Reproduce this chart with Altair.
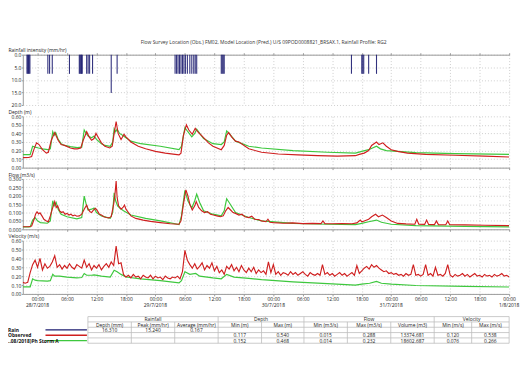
import altair as alt
import pandas as pd

# ---------------- data ----------------
START = pd.Timestamp("2018-07-27 21:00:00")

# rainfall (hours after start, intensity mm/hr)
rain_hours = [0.85, 1.0, 1.15, 1.3, 1.45, 5.1, 5.45, 6.0, 9.5, 11.5, 11.65, 11.8, 11.95, 12.1,
              13.0, 13.3, 13.6, 14.2, 18.0, 19.2, 31.0, 31.3, 31.6, 31.9, 32.2, 32.5, 32.8, 33.1,
              33.5, 34.0, 34.4, 34.8, 35.1, 35.4, 40.4, 40.6, 40.8, 41.0, 66.9, 69.0, 69.2, 69.4,
              70.4, 72.0]
rain_mmhr = [7.62, 7.62, 7.62, 7.62, 7.62, 7.62, 7.62, 7.62, 7.62, 7.62, 7.62, 7.62, 7.62, 7.62,
             7.62, 7.62, 7.62, 7.62, 15.24, 7.62, 7.62, 7.62, 7.62, 7.62, 7.62, 7.62, 7.62, 7.62,
             7.62, 7.62, 7.62, 7.62, 7.62, 7.62, 7.62, 7.62, 7.62, 7.62, 7.62, 7.62, 7.62, 7.62,
             7.62, 7.62]

depth_obs = [(0.0, 0.117), (1.2, 0.118), (1.8, 0.13), (2.3, 0.22), (2.8, 0.29), (3.3, 0.27),
             (4.0, 0.21), (4.8, 0.17), (5.2, 0.18), (5.8, 0.32), (6.5, 0.41), (6.8, 0.37),
             (7.2, 0.32), (7.8, 0.27), (8.5, 0.26), (9.7, 0.23), (10.5, 0.22), (11.1, 0.22),
             (11.8, 0.23), (12.3, 0.32), (13.0, 0.42), (13.5, 0.36), (14.0, 0.32), (14.5, 0.34),
             (14.9, 0.40), (15.4, 0.35), (16.0, 0.29), (16.7, 0.25), (17.7, 0.23), (18.2, 0.25),
             (18.6, 0.40), (19.0, 0.54), (19.4, 0.40), (20.0, 0.33), (20.6, 0.39), (21.0, 0.36),
             (22.0, 0.30), (23.5, 0.25), (25.0, 0.22), (27.0, 0.19), (29.0, 0.17), (31.0, 0.155),
             (31.8, 0.15), (32.2, 0.17), (32.7, 0.38), (33.3, 0.50), (33.8, 0.44), (34.5, 0.39),
             (35.1, 0.46), (35.6, 0.42), (36.8, 0.35), (37.8, 0.29), (38.7, 0.25), (40.4, 0.21),
             (41.0, 0.26), (41.5, 0.38), (41.9, 0.41), (42.5, 0.36), (43.3, 0.31), (44.0, 0.30),
             (46.0, 0.22), (48.6, 0.18), (52.0, 0.16), (56.0, 0.15), (60.0, 0.14), (64.0, 0.135),
             (67.7, 0.14), (68.5, 0.155), (69.5, 0.17), (70.4, 0.20), (71.0, 0.26), (72.0, 0.30),
             (72.5, 0.27), (73.3, 0.29), (74.0, 0.25), (75.0, 0.21), (76.3, 0.19), (78.3, 0.17),
             (82.0, 0.155), (88.0, 0.145), (94.0, 0.135), (99.0, 0.125)]

depth_pred = [(0.0, 0.153), (1.5, 0.153), (2.0, 0.25), (2.5, 0.24), (3.2, 0.23), (4.0, 0.22),
              (5.1, 0.21), (5.6, 0.22), (6.1, 0.42), (6.4, 0.38), (6.7, 0.41), (7.2, 0.33),
              (7.8, 0.28), (8.5, 0.26), (9.7, 0.245), (11.1, 0.235), (12.0, 0.24), (12.5, 0.44),
              (12.9, 0.40), (13.3, 0.37), (14.0, 0.35), (14.5, 0.37), (15.0, 0.33), (16.0, 0.28),
              (16.7, 0.26), (17.8, 0.25), (18.3, 0.30), (18.6, 0.455), (18.9, 0.42), (19.2, 0.45),
              (19.7, 0.40), (20.3, 0.38), (21.0, 0.35), (22.0, 0.31), (24.0, 0.28), (28.0, 0.25),
              (31.8, 0.21), (32.3, 0.25), (33.0, 0.468), (33.6, 0.42), (34.4, 0.36), (35.0, 0.40),
              (35.4, 0.45), (36.0, 0.40), (36.8, 0.34), (38.7, 0.28), (40.4, 0.27), (41.0, 0.30),
              (41.5, 0.43), (42.0, 0.40), (43.3, 0.31), (46.0, 0.25), (48.6, 0.23), (55.0, 0.20),
              (62.0, 0.18), (67.7, 0.17), (69.0, 0.19), (70.4, 0.21), (72.0, 0.25), (72.8, 0.22),
              (74.0, 0.20), (76.3, 0.19), (80.0, 0.175), (88.0, 0.165), (99.0, 0.155)]

flow_obs = [(0.0, 0.015), (1.2, 0.015), (1.8, 0.02), (2.3, 0.06), (2.6, 0.09), (2.9, 0.105),
            (3.2, 0.092), (3.5, 0.098), (3.9, 0.08), (4.3, 0.06), (4.8, 0.05), (5.2, 0.045),
            (5.6, 0.08), (6.0, 0.12), (6.5, 0.165), (6.8, 0.13), (7.1, 0.14), (7.5, 0.11),
            (7.9, 0.10), (8.2, 0.105), (8.6, 0.09), (9.0, 0.095), (9.4, 0.085), (9.8, 0.09),
            (10.2, 0.08), (10.6, 0.085), (11.0, 0.078), (11.5, 0.08), (12.0, 0.09), (12.5, 0.12),
            (13.0, 0.145), (13.3, 0.12), (13.7, 0.105), (14.0, 0.10), (14.4, 0.115), (14.8, 0.125),
            (15.2, 0.11), (15.6, 0.09), (16.0, 0.085), (16.5, 0.075), (17.0, 0.07), (17.5, 0.068),
            (18.0, 0.075), (18.5, 0.15), (18.8, 0.22), (19.0, 0.288), (19.2, 0.19), (19.5, 0.14),
            (20.0, 0.12), (20.4, 0.13), (20.7, 0.145), (21.0, 0.12), (21.5, 0.10), (22.0, 0.08),
            (23.0, 0.065), (24.5, 0.055), (26.0, 0.047), (28.0, 0.04), (30.0, 0.033), (31.8, 0.03),
            (32.2, 0.05), (32.7, 0.15), (33.2, 0.235), (33.6, 0.20), (34.0, 0.15), (34.5, 0.115),
            (35.0, 0.14), (35.3, 0.165), (35.8, 0.13), (36.4, 0.11), (37.0, 0.10), (37.6, 0.105),
            (38.2, 0.09), (38.8, 0.085), (39.5, 0.08), (40.2, 0.075), (40.8, 0.08), (41.3, 0.11),
            (41.8, 0.13), (42.3, 0.115), (42.8, 0.10), (43.3, 0.095), (44.0, 0.085), (44.6, 0.09),
            (45.2, 0.075), (46.0, 0.07), (46.6, 0.078), (47.2, 0.06), (48.0, 0.058), (48.6, 0.05),
            (49.5, 0.045), (49.9, 0.06), (50.3, 0.042), (51.0, 0.04), (53.0, 0.036), (55.0, 0.038),
            (57.0, 0.034), (59.0, 0.035), (60.7, 0.034), (61.1, 0.05), (61.5, 0.034), (63.0, 0.033),
            (65.0, 0.034), (67.0, 0.033), (68.0, 0.038), (68.7, 0.055), (69.0, 0.045), (69.5, 0.05),
            (70.4, 0.06), (71.0, 0.075), (71.8, 0.09), (72.4, 0.075), (73.2, 0.085), (74.0, 0.07),
            (75.0, 0.05), (76.3, 0.035), (78.0, 0.032), (79.8, 0.03), (80.2, 0.06), (80.6, 0.03),
            (81.8, 0.029), (82.2, 0.055), (82.6, 0.029), (83.8, 0.028), (84.2, 0.05), (84.6, 0.028),
            (86.1, 0.027), (86.5, 0.05), (86.9, 0.027), (90.0, 0.026), (94.0, 0.024), (99.0, 0.022)]

flow_pred = [(0.0, 0.014), (1.5, 0.014), (2.0, 0.055), (2.5, 0.07), (3.0, 0.05), (3.6, 0.04),
             (5.0, 0.036), (5.6, 0.05), (6.1, 0.17), (6.4, 0.14), (6.8, 0.16), (7.2, 0.12),
             (7.8, 0.09), (9.0, 0.075), (11.0, 0.062), (12.0, 0.07), (12.5, 0.198), (12.9, 0.15),
             (13.3, 0.115), (14.0, 0.12), (14.5, 0.127), (15.0, 0.10), (16.0, 0.08), (17.8, 0.065),
             (18.3, 0.10), (18.6, 0.218), (18.9, 0.17), (19.3, 0.14), (19.8, 0.125), (20.5, 0.11),
             (22.0, 0.085), (25.0, 0.065), (28.0, 0.05), (31.8, 0.028), (32.3, 0.08), (33.0, 0.232),
             (33.6, 0.17), (34.4, 0.127), (35.0, 0.17), (35.4, 0.21), (36.0, 0.16), (36.8, 0.11),
             (38.7, 0.09), (40.4, 0.08), (41.0, 0.11), (41.5, 0.182), (42.0, 0.16), (43.3, 0.10),
             (46.0, 0.07), (48.6, 0.05), (55.0, 0.035), (62.0, 0.03), (67.7, 0.028), (69.0, 0.035),
             (70.4, 0.045), (72.0, 0.055), (73.0, 0.042), (75.0, 0.03), (80.0, 0.022), (90.0, 0.017),
             (99.0, 0.014)]

# observed velocity, one reading every half hour from the start
vel_obs_step = 0.5
vel_obs = [0.13, 0.12, 0.13, 0.24, 0.33, 0.38, 0.30, 0.40, 0.27, 0.34,
           0.29, 0.31, 0.36, 0.43, 0.30, 0.33, 0.28, 0.32, 0.29, 0.34,
           0.30, 0.28, 0.33, 0.31, 0.29, 0.38, 0.30, 0.34, 0.27, 0.32,
           0.29, 0.33, 0.27, 0.31, 0.34, 0.30, 0.36, 0.32, 0.538, 0.34,
           0.35, 0.22, 0.19, 0.21, 0.18, 0.22, 0.19, 0.20, 0.17, 0.21,
           0.19, 0.18, 0.21, 0.17, 0.20, 0.18, 0.19, 0.16, 0.20, 0.18,
           0.17, 0.19, 0.18, 0.20, 0.17, 0.25, 0.49, 0.38, 0.33, 0.29,
           0.34, 0.28, 0.31, 0.35, 0.27, 0.32, 0.29, 0.35, 0.26, 0.31,
           0.24, 0.27, 0.22, 0.31, 0.28, 0.33, 0.26, 0.30, 0.25, 0.32,
           0.27, 0.24, 0.29, 0.25, 0.30, 0.23, 0.27, 0.24, 0.26, 0.22,
           0.36, 0.24, 0.33, 0.22, 0.25, 0.21, 0.24, 0.23, 0.21, 0.25,
           0.22, 0.24, 0.21, 0.23, 0.25, 0.22, 0.20, 0.24, 0.22, 0.21,
           0.23, 0.21, 0.33, 0.22, 0.24, 0.21, 0.23, 0.20, 0.22, 0.24,
           0.21, 0.23, 0.20, 0.22, 0.24, 0.21, 0.32, 0.23, 0.26, 0.29,
           0.31, 0.28, 0.33, 0.30, 0.32, 0.29, 0.27, 0.25, 0.26, 0.23,
           0.24, 0.22, 0.23, 0.21, 0.22, 0.20, 0.23, 0.21, 0.22, 0.33,
           0.21, 0.22, 0.20, 0.22, 0.33, 0.21, 0.23, 0.20, 0.30, 0.21,
           0.22, 0.20, 0.23, 0.33, 0.21, 0.19, 0.22, 0.20, 0.21, 0.23,
           0.20, 0.22, 0.19, 0.21, 0.23, 0.20, 0.21, 0.19, 0.22, 0.20,
           0.21, 0.19, 0.22, 0.20, 0.21, 0.23, 0.20, 0.21, 0.19]

vel_pred = [(0.0, 0.08), (1.5, 0.08), (2.0, 0.17), (2.5, 0.155), (3.0, 0.15), (5.0, 0.145),
            (5.6, 0.15), (6.1, 0.22), (6.5, 0.20), (7.5, 0.20), (9.0, 0.19), (11.0, 0.18),
            (12.0, 0.185), (12.5, 0.23), (13.0, 0.21), (14.0, 0.21), (14.5, 0.215), (16.0, 0.20),
            (17.8, 0.19), (18.6, 0.266), (19.2, 0.25), (20.0, 0.22), (21.0, 0.19), (24.0, 0.17),
            (28.0, 0.15), (31.8, 0.125), (32.3, 0.15), (33.0, 0.25), (34.0, 0.22), (35.2, 0.23),
            (36.0, 0.20), (38.7, 0.18), (40.4, 0.17), (41.5, 0.22), (43.0, 0.19), (46.0, 0.175),
            (48.6, 0.16), (55.0, 0.135), (62.0, 0.115), (67.7, 0.10), (69.0, 0.11), (70.6, 0.12),
            (72.0, 0.14), (73.0, 0.12), (75.0, 0.11), (80.0, 0.095), (90.0, 0.085), (99.0, 0.078)]

# axis day labels (placed under each midnight tick)
day_ticks = ["2018-07-28T00:00:00", "2018-07-29T00:00:00", "2018-07-30T00:00:00",
             "2018-07-31T00:00:00", "2018-08-01T00:00:00"]
day_labels = ["28/7/2018", "29/7/2018", "30/7/2018", "31/7/2018", "1/8/2018"]

# summary table text
title_text = ("Flow Survey Location (Obs.) FM02, Model Location (Pred.) "
              "U/S 09POD0008821_BRSAX.1, Rainfall Profile: RG2")
table_groups = ["Rainfall", "Depth", "Flow", "Velocity"]
table_cols = ["Depth (mm)", "Peak (mm/hr)", "Average (mm/hr)", "Min (m)", "Max (m)",
              "Min (m3/s)", "Max (m3/s)", "Volume (m3)", "Min (m/s)", "Max (m/s)"]
row_rain = ["16.310", "15.240", "0.167", "", "", "", "", "", "", ""]
row_obs = ["", "", "", "0.117", "0.540", "0.015", "0.288", "13374.681", "0.120", "0.538"]
row_pred = ["", "", "", "0.152", "0.468", "0.014", "0.232", "18602.687", "0.076", "0.266"]
legend_labels = ["Rain", "Observed", "..08/2018)Ph Storm A"]

# ---------------- layout / style ----------------
FONT = "Open Sans"
RED = "#cf1f1f"
GREEN = "#3ec83e"
NAVY = "#1c1c70"
GRID_C = "#c2c2c2"
DOM_C = "#9a9a9a"
TXT = "#222222"
TITLE_DX = 15            # axis titles start this far left of the plot area
PAGE_LEFT = 8 + TITLE_DX  # page x of the plot area's left edge
W = 516 - PAGE_LEFT
COL_EDGES = [89, 133, 177, 221, 265, 308, 352, 396, 440, 478, 516]
GROUP_SPAN = [(0, 3), (3, 5), (5, 8), (8, 10)]
ROW_EDGES = [319.5, 324.9, 330.3, 335.7, 341.1, 346.5]
LEG_TEXT_X, LEG_LINE_X0, LEG_LINE_X1 = 8, 46, 88


def stamps(hours):
    return [(START + pd.Timedelta(hours=h)).strftime("%Y-%m-%dT%H:%M:%S") for h in hours]


def frame(pairs):
    return pd.DataFrame({"t": stamps([p[0] for p in pairs]), "v": [p[1] for p in pairs]})


X0 = alt.DateTime(year=2018, month=7, date=27, hours=21)
X1 = alt.DateTime(year=2018, month=8, date=1, hours=0)
TICKS = [alt.DateTime(year=2018, month=7 if d < 4 else 8, date=(28 + d) if d < 4 else 1,
                      hours=hh)
         for d in range(5) for hh in (0, 6, 12, 18) if not (d == 4 and hh > 0)]


def time_x(labels=False, orient="bottom"):
    kw = dict(title=None, orient=orient, values=TICKS,
              grid=True, gridColor=GRID_C, gridDash=[1, 2], gridWidth=0.8,
              domainColor=DOM_C, tickColor=DOM_C, tickSize=2)
    if labels:
        kw.update(labels=True, format="%H:%M", labelFontSize=5, labelPadding=0.5,
                  labelFlush=False, labelOverlap=False, labelColor=TXT, labelFont=FONT)
    else:
        kw.update(labels=False)
    return alt.X("t:T", scale=alt.Scale(domain=[X0, X1]), axis=alt.Axis(**kw))


def val_y(dom, vals, fmt, title, reverse=False):
    return alt.Y("v:Q",
                 scale=alt.Scale(domain=dom, reverse=reverse, nice=False, zero=False),
                 axis=alt.Axis(values=vals, format=fmt, title=title, titleAngle=0,
                               titleAlign="left", titleBaseline="bottom", titleX=-TITLE_DX,
                               titleY=-2, titleFontSize=5, titleFontWeight="normal",
                               titleFont=FONT, titleColor=TXT, labelFontSize=5,
                               labelFont=FONT, labelColor=TXT, labelPadding=0.5, tickSize=1.5,
                               grid=True, gridColor=GRID_C, gridDash=[1, 2], gridWidth=0.8,
                               domainColor=DOM_C, tickColor=DOM_C))


# rainfall panel
rain_df = pd.DataFrame({"t": stamps(rain_hours), "v": rain_mmhr, "z": 0.0})
rain_chart = alt.Chart(rain_df).mark_rule(color=NAVY, strokeWidth=1.1, opacity=0.9).encode(
    x=time_x(orient="top"),
    y=val_y([0, 20], [0, 5, 10, 15, 20], ".1f", "Rainfall intensity (mm/hr)", reverse=True),
    y2="z:Q",
).properties(width=W, height=51)


def line_panel(obs_df, pred_df, y, height, x, extra=None):
    pred = alt.Chart(pred_df).mark_line(color=GREEN, strokeWidth=1.2, clip=True).encode(x=x, y=y)
    obs = alt.Chart(obs_df).mark_line(color=RED, strokeWidth=1.15, clip=True).encode(x=x, y=y)
    layers = [pred, obs] + ([extra] if extra is not None else [])
    return alt.layer(*layers).properties(width=W, height=height)


depth_chart = line_panel(
    frame(depth_obs), frame(depth_pred),
    val_y([0, 0.6], [0, 0.1, 0.2, 0.3, 0.4, 0.5, 0.6], ".2f", "Depth (m)"), 52, time_x())

flow_chart = line_panel(
    frame(flow_obs), frame(flow_pred),
    val_y([0, 0.3], [0, 0.05, 0.1, 0.15, 0.2, 0.25, 0.3], ".3f", "Flow (m3/s)"), 51, time_x())

VEL_H = 54
vel_x = time_x(labels=True)
day_df = pd.DataFrame({"t": day_ticks, "label": day_labels})
day_text = alt.Chart(day_df).mark_text(fontSize=5, font=FONT, color=TXT, baseline="middle",
                                       align="center").encode(
    x=vel_x, y=alt.value(VEL_H + 11), text="label:N")
vel_obs_df = pd.DataFrame({"t": stamps([i * vel_obs_step for i in range(len(vel_obs))]),
                           "v": vel_obs})
vel_chart = line_panel(
    vel_obs_df, frame(vel_pred),
    val_y([0, 0.6], [0, 0.1, 0.2, 0.3, 0.4, 0.5, 0.6], ".2f", "Velocity (m/s)"), VEL_H,
    vel_x, extra=day_text)

# ---------------- summary table + legend ----------------
TX = alt.Scale(domain=[PAGE_LEFT, PAGE_LEFT + W], nice=False, zero=False)
TY = alt.Scale(domain=[308, 347], reverse=True, nice=False, zero=False)

hl = pd.DataFrame({"x": [COL_EDGES[0]] * len(ROW_EDGES), "x2": [COL_EDGES[-1]] * len(ROW_EDGES),
                   "y": ROW_EDGES})
vl_rows = []
for a, b in GROUP_SPAN:
    vl_rows.append({"x": COL_EDGES[a], "y": ROW_EDGES[0], "y2": ROW_EDGES[-1]})
vl_rows.append({"x": COL_EDGES[-1], "y": ROW_EDGES[0], "y2": ROW_EDGES[-1]})
group_starts = [a for a, b in GROUP_SPAN]
for ci in range(1, len(COL_EDGES) - 1):
    if ci not in group_starts:
        vl_rows.append({"x": COL_EDGES[ci], "y": ROW_EDGES[1], "y2": ROW_EDGES[-1]})
vl = pd.DataFrame(vl_rows)

cells = []
for (a, b), name in zip(GROUP_SPAN, table_groups):
    cells.append({"x": (COL_EDGES[a] + COL_EDGES[b]) / 2,
                  "y": (ROW_EDGES[0] + ROW_EDGES[1]) / 2, "label": name})
for r, row in enumerate([table_cols, row_rain, row_obs, row_pred]):
    for ci, txt in enumerate(row):
        if txt:
            cells.append({"x": (COL_EDGES[ci] + COL_EDGES[ci + 1]) / 2,
                          "y": (ROW_EDGES[r + 1] + ROW_EDGES[r + 2]) / 2, "label": txt})
cells_df = pd.DataFrame(cells)

leg_y = [(ROW_EDGES[i] + ROW_EDGES[i + 1]) / 2 for i in range(2, 5)]
leg_df = pd.DataFrame({
    "label": legend_labels,
    "y": leg_y,
    "x": [LEG_TEXT_X] * 3, "x0": [LEG_LINE_X0] * 3, "x1": [LEG_LINE_X1] * 3,
})

t_h = alt.Chart(hl).mark_rule(color="#bdbdbd", strokeWidth=0.8).encode(
    x=alt.X("x:Q", scale=TX, axis=None), x2="x2:Q", y=alt.Y("y:Q", scale=TY, axis=None))
t_v = alt.Chart(vl).mark_rule(color="#bdbdbd", strokeWidth=0.8).encode(
    x=alt.X("x:Q", scale=TX, axis=None), y=alt.Y("y:Q", scale=TY, axis=None), y2="y2:Q")
t_txt = alt.Chart(cells_df).mark_text(fontSize=5, font=FONT, color=TXT, baseline="middle",
                                      align="center").encode(
    x=alt.X("x:Q", scale=TX, axis=None), y=alt.Y("y:Q", scale=TY, axis=None), text="label:N")
leg_txt = alt.Chart(leg_df).mark_text(fontSize=5, font=FONT, color="#111111", fontWeight="bold",
                                      baseline="middle", align="left").encode(
    x=alt.X("x:Q", scale=TX, axis=None), y=alt.Y("y:Q", scale=TY, axis=None), text="label:N")
leg_line = alt.Chart(leg_df).mark_rule(strokeWidth=1.4).encode(
    x=alt.X("x0:Q", scale=TX, axis=None), x2="x1:Q", y=alt.Y("y:Q", scale=TY, axis=None),
    color=alt.Color("label:N", scale=alt.Scale(domain=legend_labels, range=[NAVY, RED, GREEN]),
                    legend=None))

table_chart = alt.layer(t_h, t_v, t_txt, leg_line, leg_txt).properties(width=W, height=39)

chart = alt.vconcat(rain_chart, depth_chart, flow_chart, vel_chart, table_chart,
                    spacing=11.5, bounds="flush").properties(
    title=alt.TitleParams(text=title_text, fontSize=5, font=FONT, color="#333333",
                          fontWeight="normal", anchor="middle", offset=3),
    padding={"top": 30, "left": 0, "right": 0, "bottom": 2},
    background="white",
).configure_view(stroke=None)

chart.save("out.html", embed_options={"renderer": "svg", "actions": False})
